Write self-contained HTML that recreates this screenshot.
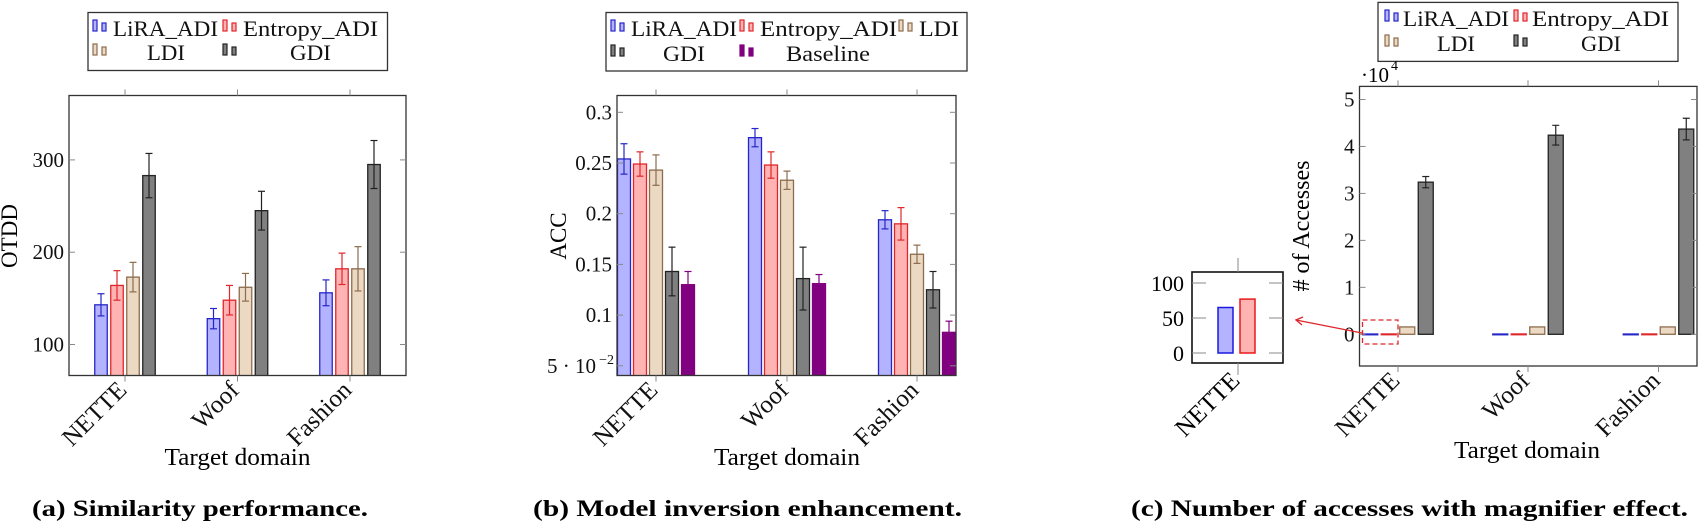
<!DOCTYPE html>
<html><head><meta charset="utf-8"><style>
html,body{margin:0;padding:0;background:#fff;}
svg{display:block;font-family:"Liberation Serif",serif;}
</style></head><body>
<svg id="fig" width="1701" height="529" viewBox="0 0 1701 529" xmlns="http://www.w3.org/2000/svg"></svg>
<script>
// ---------- data ----------
const categories = ["NETTE","Woof","Fashion"];
// (a) OTDD
const aLira = [143,128,156], aLiraErr = [12,11,14];
const aEnt = [164,148,182], aEntErr = [16,16,17];
const aLdi = [173,162,182], aLdiErr = [16,15,24];
const aGdi = [283,245,295], aGdiErr = [24,21,26];
const aTicks = [100,200,300];
// (b) ACC
const bLira = [0.254,0.275,0.194], bLiraErr = [0.015,0.009,0.009];
const bEnt = [0.249,0.248,0.190], bEntErr = [0.012,0.013,0.016];
const bLdi = [0.243,0.233,0.160], bLdiErr = [0.015,0.009,0.009];
const bGdi = [0.143,0.136,0.125], bGdiErr = [0.024,0.031,0.018];
const bBase = [0.130,0.131,0.083], bBaseErr = [0.013,0.009,0.011];
const bTicks = [0.05,0.1,0.15,0.2,0.25,0.3];
const bTickLabels = ["5 · 10","0.1","0.15","0.2","0.25","0.3"];
// (c) accesses (x10^4)
const cLira = [0.0065,0.0065,0.0065];
const cEnt = [0.0077,0.0077,0.0077];
const cLdi = [0.157,0.157,0.157];
const cGdi = [3.24,4.24,4.37], cGdiErr = [0.12,0.21,0.23];
const cTicks = [0,1,2,3,4,5];
const insetCats = ["NETTE"];
const insetLira = [65], insetEnt = [77];
const insetTicks = [0,50,100];

const NS="http://www.w3.org/2000/svg";
const svg=document.getElementById('fig');
function mk(tag,attrs,parent){const e=document.createElementNS(NS,tag);for(const k in attrs)e.setAttribute(k,attrs[k]);(parent||svg).appendChild(e);return e;}
function txt(s,attrs,parent){const e=mk('text',attrs,parent);e.textContent=s;return e;}
const defs=mk('defs',{});

const ST={
 lira:{fill:"#b3b3ff",stroke:"#2626c8"},
 ent:{fill:"#ffb3b3",stroke:"#e0262a"},
 ldi:{fill:"#ecd9c4",stroke:"#8c6c4c"},
 gdi:{fill:"#808080",stroke:"#222"},
 base:{fill:"#800080",stroke:"#800080"}
};

function drawPanel(p){
 const g=mk('g',{});
 
 
 const cp=mk('clipPath',{id:'clip-'+p.name},defs);
 mk('rect',{x:p.x1,y:p.yt,width:p.x2-p.x1,height:p.yb-p.yt},cp);
 const bg=mk('g',{'clip-path':'url(#clip-'+p.name+')'},g);
 const y=v=>p.y0-(v-p.v0)*p.k;
 p.series.forEach((s,si)=>{
  s.vals.forEach((v,ci)=>{
   const cx=p.cx[ci]+p.offs[si];
   const top=y(v), base=y(p.base);
   const r=mk('rect',{x:cx-p.bw/2,y:Math.min(top,base),width:p.bw,height:Math.max(Math.abs(base-top),0.8),fill:ST[s.key].fill,stroke:ST[s.key].stroke,'stroke-width':1.3},bg);
   
   
   if(s.err){
    const e=s.err[ci], c=ST[s.key].stroke;
    const eg=mk('g',{stroke:c,'stroke-width':1.2},bg);
    
    
    mk('line',{x1:cx,x2:cx,y1:y(v+e),y2:y(v-e)},eg);
    mk('line',{x1:cx-3.5,x2:cx+3.5,y1:y(v+e),y2:y(v+e)},eg);
    mk('line',{x1:cx-3.5,x2:cx+3.5,y1:y(v-e),y2:y(v-e)},eg);
   }
  });
 });
 const f=mk('rect',{x:p.x1,y:p.yt,width:p.x2-p.x1,height:p.yb-p.yt,fill:'none',stroke:'#333','stroke-width':1.3},g);
 
 
 p.ticks.forEach((t,i)=>{
  const ty=y(t);
  mk('line',{x1:p.x1,x2:p.x1+6,y1:ty,y2:ty,stroke:'#888','stroke-width':1},g);
  mk('line',{x1:p.x2-6,x2:p.x2,y1:ty,y2:ty,stroke:'#888','stroke-width':1},g);
  const lab=txt(p.tickLabels?p.tickLabels[i]:String(t),{x:p.x1-5-(p.supIdx===i?16:0),y:ty+7,'text-anchor':'end','font-size':21,fill:'#111'},g);
  
  
  if(p.supIdx===i){
   const sp=txt('−2',{x:p.x1-3,y:ty-2,'text-anchor':'end','font-size':14,fill:'#111'},g);
   
   
  }
 });
 p.cx.forEach((cx,i)=>{
  mk('line',{x1:cx,x2:cx,y1:p.yt-6,y2:p.yt,stroke:'#888','stroke-width':1},g);
  mk('line',{x1:cx,x2:cx,y1:p.yb,y2:p.yb+6,stroke:'#888','stroke-width':1},g);
  const lx=cx+3, ly=p.yb+16;
  const l=txt(p.cats[i],{x:lx,y:ly,'text-anchor':'end','font-size':25,fill:'#111',transform:`rotate(-45 ${lx} ${ly})`},g);
  
  
 });
 return {g,y};
}

function legend(L){
 const g=mk('g',{});
 
 
 mk('rect',{x:L.x1,y:L.y1,width:L.x2-L.x1,height:L.y2-L.y1,fill:'#fff',stroke:'#333','stroke-width':1.3},g);
 L.items.forEach(it=>{
  const eg=mk('g',{},g);
  
  
  const s=ST[it.key];
  mk('rect',{x:it.ix,y:it.y-9,width:4,height:11,fill:s.fill,stroke:s.stroke,'stroke-width':1.2},eg);
  mk('rect',{x:it.ix+9,y:it.y-6,width:4,height:8,fill:s.fill,stroke:s.stroke,'stroke-width':1.2},eg);
  txt(it.label,{x:it.tx,y:it.y+7,'font-size':22,fill:'#111',textLength:it.tw,lengthAdjust:'spacingAndGlyphs'},eg);
 });
}
function label(s,attrs,name){const t=txt(s,attrs);return t;}

// ---------- panel (a) ----------
drawPanel({name:'chart-a-otdd',x1:69,x2:406,yt:95.5,yb:375.5,y0:344.5,v0:100,k:0.923,base:60,
 cx:[125,237.5,350],offs:[-24,-8,8,24],bw:12.5,cats:categories,ticks:aTicks,
 series:[{key:'lira',vals:aLira,err:aLiraErr},{key:'ent',vals:aEnt,err:aEntErr},{key:'ldi',vals:aLdi,err:aLdiErr},{key:'gdi',vals:aGdi,err:aGdiErr}]});
legend({name:'legend-a',x1:88,y1:12.5,x2:387.5,y2:70.5,items:[
 {key:'lira',label:'LiRA_ADI',ix:93,tx:113,tw:105,y:29},
 {key:'ent',label:'Entropy_ADI',ix:223,tx:243,tw:135,y:29},
 {key:'ldi',label:'LDI',ix:93,tx:147,tw:38,y:53},
 {key:'gdi',label:'GDI',ix:223,tx:290,tw:41,y:53}]});
label('OTDD',{x:17,y:236,'text-anchor':'middle','font-size':23,transform:'rotate(-90 17 236)'},'y-axis-title-a');
label('Target domain',{x:237.5,y:465,'text-anchor':'middle','font-size':24,textLength:146,lengthAdjust:'spacingAndGlyphs'},'x-axis-title-a');
label('(a) Similarity performance.',{x:32,y:516,'font-size':23,'font-weight':'bold',textLength:336,lengthAdjust:'spacingAndGlyphs'},'caption-a');

// ---------- panel (b) ----------
drawPanel({name:'chart-b-acc',x1:617,x2:956,yt:95.5,yb:375.5,y0:112.3,v0:0.3,k:1014,base:0.03,
 cx:[656,787,917],offs:[-32,-16,0,16,32],bw:13,cats:categories,ticks:bTicks,tickLabels:bTickLabels,supIdx:0,
 series:[{key:'lira',vals:bLira,err:bLiraErr},{key:'ent',vals:bEnt,err:bEntErr},{key:'ldi',vals:bLdi,err:bLdiErr},{key:'gdi',vals:bGdi,err:bGdiErr},{key:'base',vals:bBase,err:bBaseErr}]});
legend({name:'legend-b',x1:606,y1:12.5,x2:967,y2:71,items:[
 {key:'lira',label:'LiRA_ADI',ix:611,tx:631,tw:106,y:29},
 {key:'ent',label:'Entropy_ADI',ix:740,tx:760,tw:137,y:29},
 {key:'ldi',label:'LDI',ix:899,tx:919,tw:40,y:29},
 {key:'gdi',label:'GDI',ix:611,tx:663,tw:42,y:54},
 {key:'base',label:'Baseline',ix:740,tx:786,tw:84,y:54}]});
label('ACC',{x:566,y:236,'text-anchor':'middle','font-size':23,transform:'rotate(-90 566 236)'},'y-axis-title-b');
label('Target domain',{x:787,y:465,'text-anchor':'middle','font-size':24,textLength:146,lengthAdjust:'spacingAndGlyphs'},'x-axis-title-b');
label('(b) Model inversion enhancement.',{x:533,y:516,'font-size':23,'font-weight':'bold',textLength:429,lengthAdjust:'spacingAndGlyphs'},'caption-b');

// ---------- panel (c) ----------
drawPanel({name:'chart-c-accesses',x1:1359.5,x2:1697,yt:86.4,yb:366,y0:334.3,v0:0,k:46.96,base:0,
 cx:[1398,1528,1658.5],offs:[-27.75,-9.25,9.25,27.75],bw:15,cats:categories,ticks:cTicks,
 series:[{key:'lira',vals:cLira},{key:'ent',vals:cEnt},{key:'ldi',vals:cLdi},{key:'gdi',vals:cGdi,err:cGdiErr}]});
legend({name:'legend-c',x1:1378,y1:2.4,x2:1678,y2:61.4,items:[
 {key:'lira',label:'LiRA_ADI',ix:1385,tx:1403,tw:106,y:19},
 {key:'ent',label:'Entropy_ADI',ix:1514,tx:1532,tw:137,y:19},
 {key:'ldi',label:'LDI',ix:1385,tx:1437,tw:38,y:44},
 {key:'gdi',label:'GDI',ix:1514,tx:1581,tw:40,y:44}]});
label('·10',{x:1361,y:82,'font-size':21},'axis-multiplier');
label('4',{x:1391,y:70,'font-size':14},'axis-multiplier-exponent');
label('# of Accesses',{x:1309,y:226,'text-anchor':'middle','font-size':24,textLength:131,lengthAdjust:'spacingAndGlyphs',transform:'rotate(-90 1309 226)'},'y-axis-title-c');
label('Target domain',{x:1527,y:458,'text-anchor':'middle','font-size':24,textLength:146,lengthAdjust:'spacingAndGlyphs'},'x-axis-title-c');
label('(c) Number of accesses with magnifier effect.',{x:1131,y:516,'font-size':23,'font-weight':'bold',textLength:557,lengthAdjust:'spacingAndGlyphs'},'caption-c');

// magnifier
const dr=mk('rect',{x:1362.5,y:320,width:35.5,height:24,fill:'none',stroke:'#e0262a','stroke-width':1.3,'stroke-dasharray':'5,3'});


const ar=mk('g',{stroke:'#e0262a','stroke-width':1.4,fill:'none'});


mk('line',{x1:1362,y1:333,x2:1296,y2:320},ar);
mk('polyline',{points:'1303,317 1296,320 1302,325'},ar);

// inset
const ig=mk('g',{});


const iy=v=>353-v*0.7;
const icx=[1238];
insetLira.forEach((v,i)=>{
 const r=mk('rect',{x:icx[i]-20,y:iy(v),width:15,height:iy(0)-iy(v),fill:ST.lira.fill,stroke:'#1a1ae0','stroke-width':1.5},ig);
 
 
});
insetEnt.forEach((v,i)=>{
 const r=mk('rect',{x:icx[i]+2,y:iy(v),width:15,height:iy(0)-iy(v),fill:ST.ent.fill,stroke:'#e81a1a','stroke-width':1.5},ig);
 
 
});
mk('rect',{x:1192,y:272,width:91,height:91,fill:'none',stroke:'#111','stroke-width':1.6},ig);
insetTicks.forEach(t=>{
 mk('line',{x1:1192,x2:1206,y1:iy(t),y2:iy(t),stroke:'#888'},ig);
 mk('line',{x1:1269,x2:1283,y1:iy(t),y2:iy(t),stroke:'#888'},ig);
 const l=txt(String(t),{x:1184,y:iy(t)+8,'text-anchor':'end','font-size':22},ig);
 
 
});
icx.forEach((cx,i)=>{
 mk('line',{x1:cx,x2:cx,y1:258,y2:272,stroke:'#888'},ig);
 mk('line',{x1:cx,x2:cx,y1:363,y2:375,stroke:'#888'},ig);
 const l=txt(insetCats[i],{x:cx+3,y:382,'text-anchor':'end','font-size':25,transform:`rotate(-45 ${cx+3} 382)`},ig);
 
 
});
</script>
</body></html>
